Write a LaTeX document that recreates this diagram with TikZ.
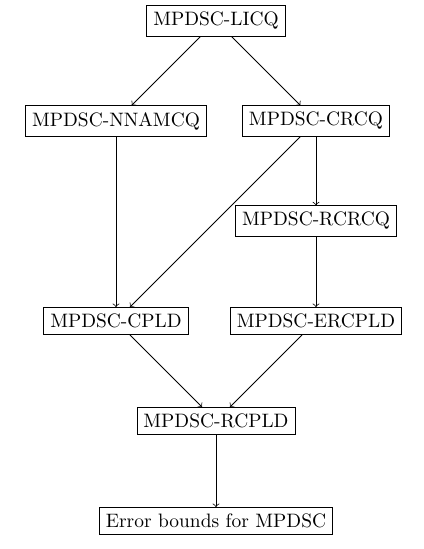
\documentclass[tikz,border=0pt]{standalone}
\usepackage{tikz}
\begin{document}
\begin{tikzpicture}[x=1.81cm,y=1.81cm]
    \tikzset{cond/.style={draw,rectangle,fill=white}}
    \useasboundingbox (-2.16,0.21) rectangle (2.08,-5.28);

    \node[cond] (licq)   at (0,0)   {MPDSC-LICQ};
    \node[cond] (nnamcq) at (-1,-1) {MPDSC-NNAMCQ};
    \node[cond] (crcq)   at (1,-1)  {MPDSC-CRCQ};
    \node[cond] (rcrcq)  at (1,-2)  {MPDSC-RCRCQ};
    \node[cond] (cpld)   at (-1,-3) {MPDSC-CPLD};
    \node[cond] (ercpld) at (1,-3)  {MPDSC-ERCPLD};
    \node[cond] (rcpld)  at (0,-4)  {MPDSC-RCPLD};
    \node[cond] (err)    at (0,-5)  {Error bounds for MPDSC};

    \draw[->] (licq)--(nnamcq);
    \draw[->] (licq)--(crcq);
    \draw[->] (nnamcq)--(cpld);
    \draw[->] (crcq)--(cpld);
    \draw[->] (crcq)--(rcrcq);
    \draw[->] (rcrcq)--(ercpld);
    \draw[->] (cpld)--(rcpld);
    \draw[->] (ercpld)--(rcpld);
    \draw[->] (rcpld)--(err);
\end{tikzpicture}
\end{document}
